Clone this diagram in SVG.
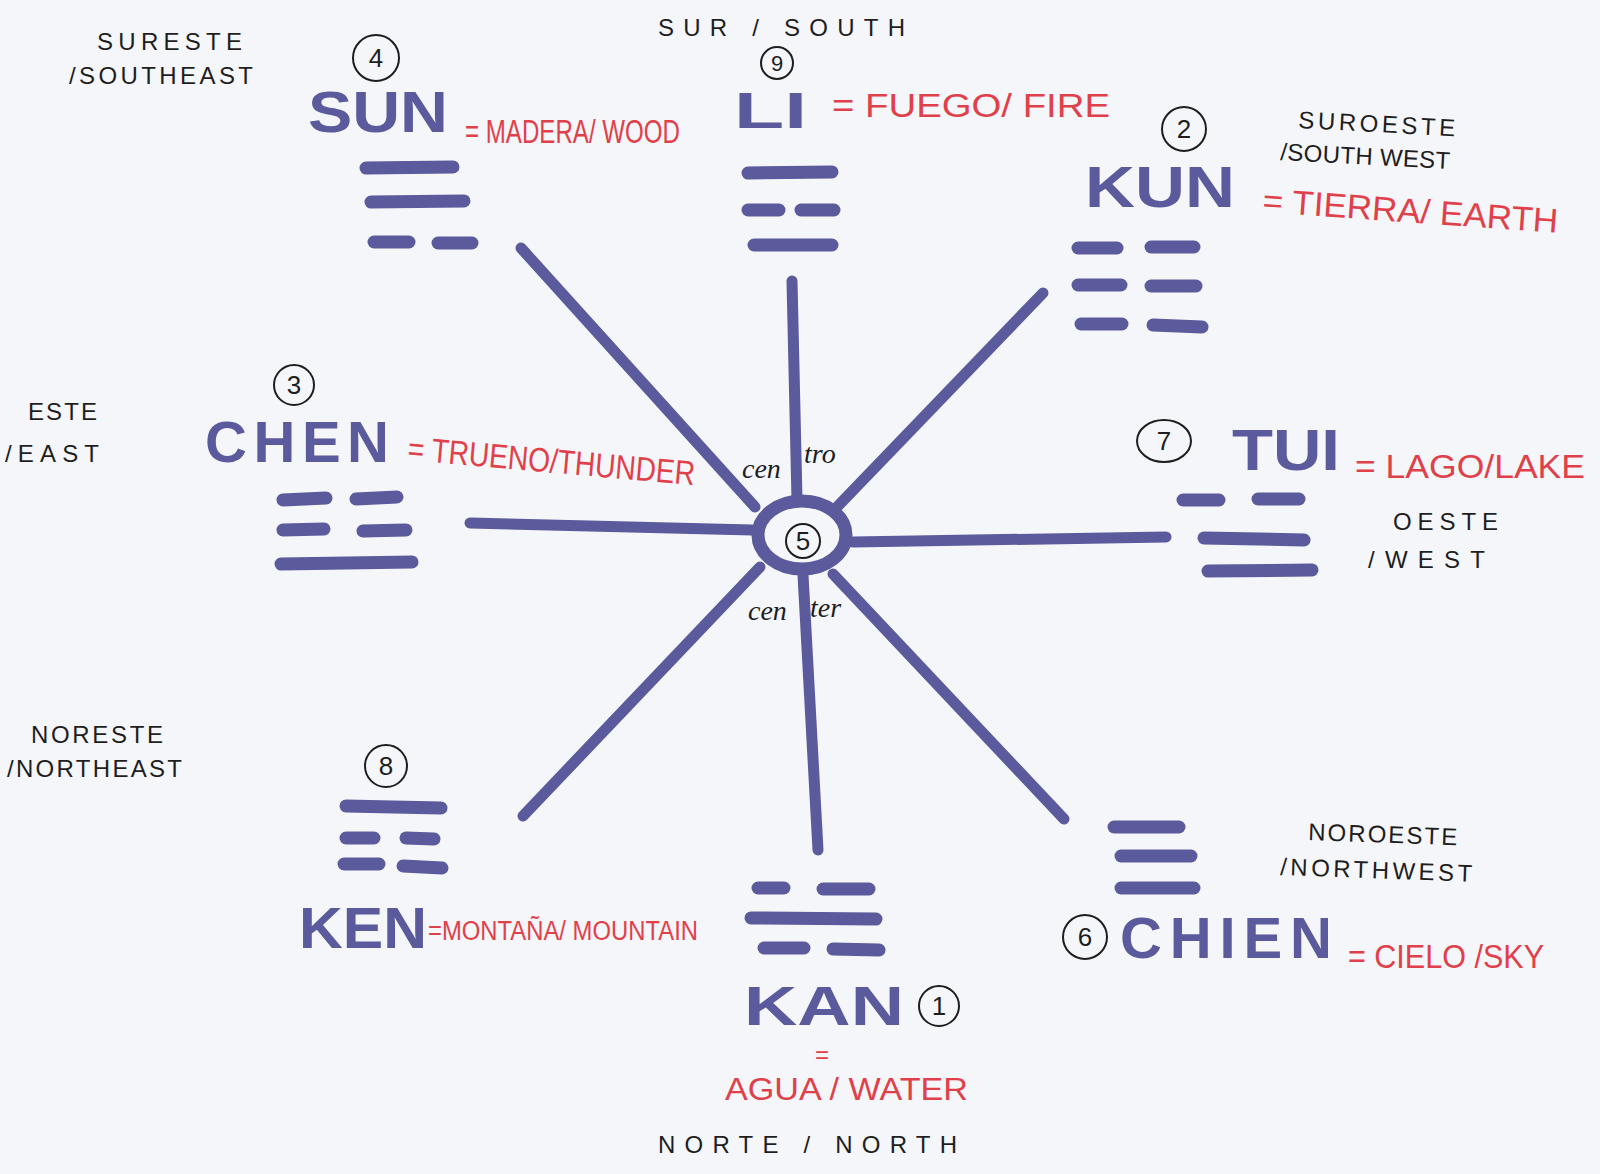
<svg xmlns="http://www.w3.org/2000/svg" width="1600" height="1174" viewBox="0 0 1600 1174">
<style>
.bar{stroke:#5a5a9c;stroke-width:13;stroke-linecap:round;fill:none}
.spoke{stroke:#5a5a9c;stroke-width:11;stroke-linecap:round;fill:none}
.name{font-family:"Liberation Sans",Arial,sans-serif;font-weight:bold;fill:#5a5a9c;font-size:58px}
.mean{font-family:"Liberation Sans",Arial,sans-serif;fill:#e0404a;font-size:34px}
.dir{font-family:"Liberation Sans",Arial,sans-serif;fill:#1e1e1e;font-size:24px}
.nc{fill:none;stroke:#1e1e1e;stroke-width:2}
.nt{font-family:"Liberation Sans",Arial,sans-serif;fill:#1e1e1e;font-size:26px;text-anchor:middle}
.cur{font-family:"Liberation Serif","Times New Roman",serif;font-style:italic;fill:#1e1e1e;font-size:28px}
</style>
<rect x="0" y="0" width="1600" height="1174" fill="#f5f6f9"/>

<g id="connectors">
<line class="spoke" x1="792" y1="281" x2="797" y2="500"/>
<line class="spoke" x1="803" y1="575" x2="818" y2="850"/>
<line class="spoke" x1="470" y1="523" x2="752" y2="530"/>
<line class="spoke" x1="853" y1="542" x2="1166" y2="537"/>
<line class="spoke" x1="521" y1="248" x2="755" y2="507"/>
<line class="spoke" x1="1043" y1="293" x2="836" y2="508"/>
<line class="spoke" x1="523" y1="816" x2="760" y2="567"/>
<line class="spoke" x1="1064" y1="819" x2="833" y2="574"/>
</g>

<g id="center">
<ellipse cx="802" cy="535" rx="44" ry="34" fill="none" stroke="#5a5a9c" stroke-width="13"/>
<circle class="nc" cx="803" cy="541" r="17"/>
<text class="nt" x="803" y="550">5</text>
<text class="cur" x="742" y="478">cen</text>
<text class="cur" x="804" y="463">tro</text>
<text class="cur" x="748" y="620">cen</text>
<text class="cur" x="810" y="617">ter</text>
</g>

<g id="sun">
<circle class="nc" cx="376" cy="58" r="23"/>
<text class="nt" x="376" y="67">4</text>
<text class="name" x="308" y="132" textLength="140" lengthAdjust="spacingAndGlyphs">SUN</text>
<text class="mean" x="465" y="143" textLength="215" lengthAdjust="spacingAndGlyphs">= MADERA/ WOOD</text>
<line class="bar" x1="366" y1="168" x2="453" y2="167"/>
<line class="bar" x1="371" y1="202" x2="464" y2="201"/>
<line class="bar" x1="374" y1="242" x2="409" y2="242"/>
<line class="bar" x1="438" y1="243" x2="472" y2="243"/>
</g>
<text class="dir" x="97" y="50" textLength="145" lengthAdjust="spacing">SURESTE</text>
<text class="dir" x="69" y="84" textLength="184" lengthAdjust="spacing">/SOUTHEAST</text>

<g id="li">
<circle class="nc" cx="777" cy="63" r="16"/>
<text class="nt" x="777" y="71" style="font-size:22px">9</text>
<text class="name" x="734" y="128" style="font-size:50px" textLength="73" lengthAdjust="spacingAndGlyphs">LI</text>
<text class="mean" x="832" y="117" textLength="278" lengthAdjust="spacingAndGlyphs">= FUEGO/ FIRE</text>
<line class="bar" x1="748" y1="173" x2="832" y2="172"/>
<line class="bar" x1="748" y1="210" x2="779" y2="210"/>
<line class="bar" x1="801" y1="210" x2="834" y2="210"/>
<line class="bar" x1="754" y1="245" x2="832" y2="245"/>
</g>
<text class="dir" x="658" y="36" textLength="247" lengthAdjust="spacing">SUR / SOUTH</text>

<g id="kun">
<circle class="nc" cx="1184" cy="129" r="22"/>
<text class="nt" x="1184" y="138">2</text>
<text class="name" x="1085" y="207" textLength="150" lengthAdjust="spacingAndGlyphs">KUN</text>
<text class="mean" x="1262" y="212" textLength="296" lengthAdjust="spacingAndGlyphs" transform="rotate(4 1262 212)">= TIERRA/ EARTH</text>
<line class="bar" x1="1078" y1="248" x2="1117" y2="248"/>
<line class="bar" x1="1151" y1="247" x2="1194" y2="247"/>
<line class="bar" x1="1078" y1="285" x2="1121" y2="285"/>
<line class="bar" x1="1151" y1="286" x2="1196" y2="286"/>
<line class="bar" x1="1081" y1="324" x2="1122" y2="324"/>
<line class="bar" x1="1153" y1="325" x2="1202" y2="327"/>
</g>
<text class="dir" x="1298" y="128" textLength="157" lengthAdjust="spacing" transform="rotate(3 1298 128)">SUROESTE</text>
<text class="dir" x="1280" y="160" textLength="170" lengthAdjust="spacing" transform="rotate(3 1280 160)">/SOUTH WEST</text>

<g id="chen">
<circle class="nc" cx="294" cy="385" r="20"/>
<text class="nt" x="294" y="394">3</text>
<text class="name" x="205" y="462" textLength="184" lengthAdjust="spacing">CHEN</text>
<text class="mean" x="407" y="460" textLength="288" lengthAdjust="spacingAndGlyphs" transform="rotate(5 407 460)">= TRUENO/THUNDER</text>
<line class="bar" x1="283" y1="500" x2="326" y2="498"/>
<line class="bar" x1="356" y1="499" x2="397" y2="497"/>
<line class="bar" x1="283" y1="530" x2="324" y2="529"/>
<line class="bar" x1="363" y1="531" x2="406" y2="530"/>
<line class="bar" x1="281" y1="564" x2="412" y2="562"/>
</g>
<text class="dir" x="28" y="420" textLength="69" lengthAdjust="spacing">ESTE</text>
<text class="dir" x="5" y="462" textLength="94" lengthAdjust="spacing">/EAST</text>

<g id="tui">
<ellipse class="nc" cx="1164" cy="441" rx="27" ry="21"/>
<text class="nt" x="1164" y="450">7</text>
<text class="name" x="1232" y="470" textLength="108" lengthAdjust="spacingAndGlyphs">TUI</text>
<text class="mean" x="1355" y="478" textLength="230" lengthAdjust="spacingAndGlyphs">= LAGO/LAKE</text>
<line class="bar" x1="1183" y1="500" x2="1219" y2="500"/>
<line class="bar" x1="1258" y1="499" x2="1299" y2="499"/>
<line class="bar" x1="1204" y1="538" x2="1304" y2="540"/>
<line class="bar" x1="1208" y1="571" x2="1312" y2="570"/>
</g>
<text class="dir" x="1393" y="530" textLength="105" lengthAdjust="spacing">OESTE</text>
<text class="dir" x="1368" y="568" textLength="117" lengthAdjust="spacing">/WEST</text>

<g id="ken">
<circle class="nc" cx="386" cy="766" r="21"/>
<text class="nt" x="386" y="775">8</text>
<line class="bar" x1="346" y1="806" x2="441" y2="808"/>
<line class="bar" x1="346" y1="838" x2="374" y2="838"/>
<line class="bar" x1="406" y1="838" x2="434" y2="839"/>
<line class="bar" x1="344" y1="864" x2="379" y2="864"/>
<line class="bar" x1="403" y1="866" x2="442" y2="868"/>
<text class="name" x="299" y="948" textLength="128" lengthAdjust="spacingAndGlyphs">KEN</text>
<text class="mean" x="428" y="940" style="font-size:27px" textLength="270" lengthAdjust="spacingAndGlyphs">=MONTAÑA/ MOUNTAIN</text>
</g>
<text class="dir" x="31" y="743" textLength="132" lengthAdjust="spacing">NORESTE</text>
<text class="dir" x="7" y="777" textLength="175" lengthAdjust="spacing">/NORTHEAST</text>

<g id="kan">
<line class="bar" x1="758" y1="888" x2="784" y2="888"/>
<line class="bar" x1="823" y1="889" x2="869" y2="889"/>
<line class="bar" x1="751" y1="918" x2="876" y2="919"/>
<line class="bar" x1="764" y1="948" x2="804" y2="948"/>
<line class="bar" x1="833" y1="949" x2="879" y2="950"/>
<text class="name" x="744" y="1025" style="font-size:56px" textLength="160" lengthAdjust="spacingAndGlyphs">KAN</text>
<circle class="nc" cx="939" cy="1006" r="20"/>
<text class="nt" x="939" y="1015">1</text>
<text class="mean" x="822" y="1063" style="font-size:24px;text-anchor:middle">=</text>
<text class="mean" x="725" y="1100" style="font-size:31px" textLength="243" lengthAdjust="spacingAndGlyphs">AGUA / WATER</text>
</g>
<text class="dir" x="658" y="1153" textLength="299" lengthAdjust="spacing">NORTE /  NORTH</text>

<g id="chien">
<line class="bar" x1="1114" y1="827" x2="1179" y2="827"/>
<line class="bar" x1="1121" y1="856" x2="1191" y2="856"/>
<line class="bar" x1="1121" y1="888" x2="1194" y2="888"/>
<circle class="nc" cx="1085" cy="937" r="22"/>
<text class="nt" x="1085" y="946">6</text>
<text class="name" x="1120" y="958" textLength="212" lengthAdjust="spacing">CHIEN</text>
<text class="mean" x="1348" y="968" textLength="196" lengthAdjust="spacingAndGlyphs">= CIELO /SKY</text>
</g>
<text class="dir" x="1308" y="840" textLength="149" lengthAdjust="spacing" transform="rotate(2 1308 840)">NOROESTE</text>
<text class="dir" x="1280" y="875" textLength="192" lengthAdjust="spacing" transform="rotate(2 1280 875)">/NORTHWEST</text>
</svg>
